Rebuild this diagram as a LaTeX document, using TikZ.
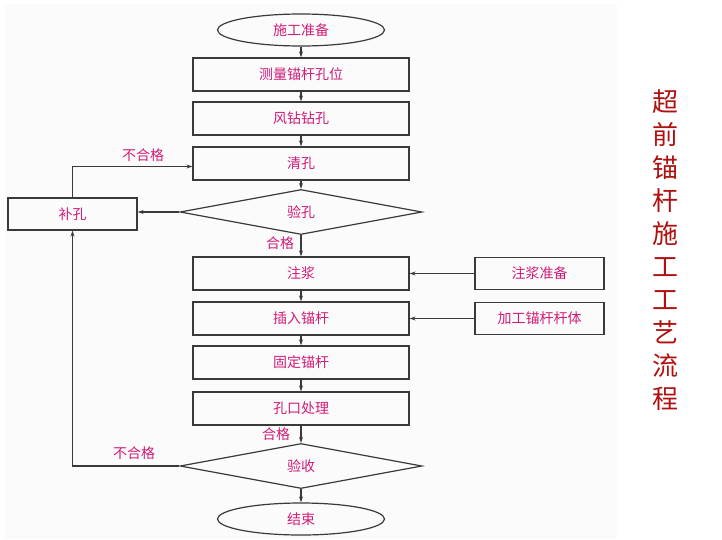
\documentclass[tikz,border=0pt]{standalone}
\usepackage{fontspec}
\newfontfamily\cjk{Noto Sans CJK SC}
\usetikzlibrary{shapes.geometric,arrows.meta}
\definecolor{txt}{HTML}{D01C78}
\definecolor{ttl}{HTML}{B01010}
\definecolor{ln}{HTML}{3A3A3A}
\begin{document}
\begin{tikzpicture}[x=1pt,y=-1pt,
  base/.style={draw=ln,line width=1.2pt,inner sep=0pt,text=txt,font=\cjk\fontsize{14}{14}\selectfont},
  box/.style={base,rectangle,minimum width=216pt,minimum height=33pt},
  sidebox/.style={base,rectangle,minimum width=129pt,minimum height=32pt},
  term/.style={base,ellipse,minimum width=167pt,minimum height=32pt},
  dec/.style={base,diamond,minimum width=242pt,minimum height=45pt},
  lbl/.style={text=txt,font=\cjk\fontsize{14}{14}\selectfont,inner sep=0pt},
  arr/.style={draw=ln,line width=1.1pt,-{Stealth[length=6pt,width=4pt]}}
]
\useasboundingbox (0,0) rectangle (722,539);
\fill[gray!3] (5,4) rectangle (617,539);

\node[term] (s) at (301,30) {施工准备};
\node[box] (b1) at (301,74.5) {测量锚杆孔位};
\node[box] (b2) at (301,118.5) {风钻钻孔};
\node[box] (qk) at (301,163.5) {清孔};
\node[dec] (yk) at (301,212) {验孔};
\node[sidebox] (bk) at (72.5,214) {补孔};
\node[box] (zj) at (301,273.5) {注浆};
\node[sidebox] (zjzb) at (539.5,273.5) {注浆准备};
\node[box] (cr) at (301,318.5) {插入锚杆};
\node[sidebox] (jg) at (539.5,318.5) {加工锚杆杆体};
\node[box] (gd) at (301,362.5) {固定锚杆};
\node[box] (kk) at (301,408.5) {孔口处理};
\node[dec] (ys) at (301,466) {验收};
\node[term] (e) at (301,519) {结束};

\node[lbl] (l1) at (143,155) {不合格};
\node[lbl] (l2) at (280,243) {合格};
\node[lbl] (l3) at (276,434) {合格};
\node[lbl] (l4) at (134,453) {不合格};

\node[text=ttl,font=\cjk\fontsize{26}{33}\selectfont,align=center,inner sep=0pt] (title) at (665,250)
  {超\\前\\锚\\杆\\施\\工\\工\\艺\\流\\程};

\draw[arr] (s) -- (b1);
\draw[arr] (b1) -- (b2);
\draw[arr] (b2) -- (qk);
\draw[arr] (qk) -- (yk);
\draw[arr] (yk) -- (zj);
\draw[arr] (zj) -- (cr);
\draw[arr] (cr) -- (gd);
\draw[arr] (gd) -- (kk);
\draw[arr] (kk) -- (ys);
\draw[arr] (ys) -- (e);
\draw[arr] (yk.west) -- (bk.east |- yk.west);
\draw[arr] (bk.north) |- ([yshift=-3pt]qk.west);
\draw[arr] (ys.west) -| (bk.south);
\draw[arr] (zjzb) -- (zj);
\draw[arr] (jg) -- (cr);
\end{tikzpicture}
\end{document}
